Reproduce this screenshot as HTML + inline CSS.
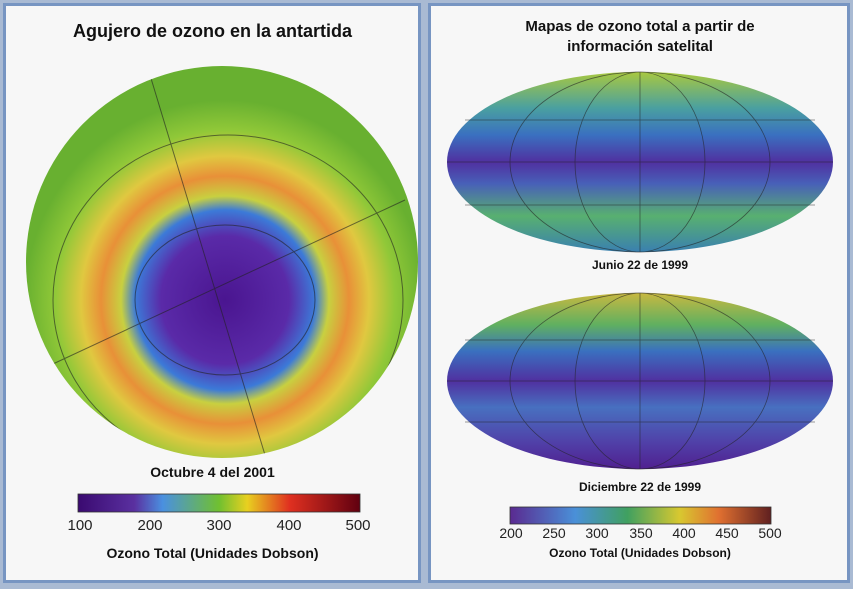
<!DOCTYPE html>
<html><head><meta charset="utf-8"><style>
body{margin:0;width:853px;height:589px;background:#a9bad3;overflow:hidden;font-family:"Liberation Sans",sans-serif}
.p{position:absolute;background:#f7f7f7;border:3px solid #7795c2;box-sizing:border-box}
.t{position:absolute;text-align:center;font-weight:bold;color:#111}
</style></head><body>
<div class="p" style="left:3px;top:3px;width:418px;height:580px"></div>
<div class="p" style="left:428px;top:3px;width:422px;height:580px"></div>
<div class="t" style="left:20px;width:385px;top:21px;font-size:18px">Agujero de ozono en la antartida</div>
<div class="t" style="left:440px;width:400px;top:17px;font-size:15px;line-height:20px">Mapas de ozono total a partir de<br>información satelital</div>
<div class="t" style="left:440px;width:400px;top:258px;font-size:12px">Junio 22 de 1999</div>
<div class="t" style="left:440px;width:400px;top:480px;font-size:12px">Diciembre 22 de 1999</div>
<div class="t" style="left:20px;width:385px;top:464px;font-size:14px">Octubre 4 del 2001</div>
<div class="t" style="left:20px;width:385px;top:545px;font-size:14px">Ozono Total (Unidades Dobson)</div>
<div class="t" style="left:440px;width:400px;top:546px;font-size:12px">Ozono Total (Unidades Dobson)</div>
<svg width="853" height="589" style="position:absolute;left:0;top:0">
<defs>
<radialGradient id="g1" cx="225" cy="300" r="200" gradientUnits="userSpaceOnUse">
<stop offset="0" stop-color="#4a1590"/><stop offset="0.32" stop-color="#5a2aa8"/><stop offset="0.45" stop-color="#3c7ad8"/>
<stop offset="0.52" stop-color="#c8d040"/><stop offset="0.62" stop-color="#e89038"/><stop offset="0.72" stop-color="#e0c840"/><stop offset="0.85" stop-color="#90c838"/><stop offset="1" stop-color="#68b030"/></radialGradient>
<linearGradient id="e1" x1="0" y1="0" x2="0" y2="1">
<stop offset="0" stop-color="#a8c840"/><stop offset="0.2" stop-color="#4aa0a0"/><stop offset="0.35" stop-color="#3a70c0"/><stop offset="0.5" stop-color="#5030a0"/><stop offset="0.62" stop-color="#4860b8"/><stop offset="0.8" stop-color="#58b070"/><stop offset="1" stop-color="#3a80b0"/></linearGradient>
<linearGradient id="e2" x1="0" y1="0" x2="0" y2="1">
<stop offset="0" stop-color="#c8b840"/><stop offset="0.18" stop-color="#60b060"/><stop offset="0.33" stop-color="#3a70c0"/><stop offset="0.5" stop-color="#5030a0"/><stop offset="0.65" stop-color="#4870c0"/><stop offset="0.85" stop-color="#5040a8"/><stop offset="1" stop-color="#502090"/></linearGradient>
<linearGradient id="c1"><stop offset="0" stop-color="#3a0a70"/><stop offset="0.2" stop-color="#5a30a0"/><stop offset="0.3" stop-color="#4a90e0"/><stop offset="0.5" stop-color="#70c030"/><stop offset="0.6" stop-color="#e8d020"/><stop offset="0.75" stop-color="#e03020"/><stop offset="1" stop-color="#600010"/></linearGradient>
<linearGradient id="c2"><stop offset="0" stop-color="#5a2a90"/><stop offset="0.25" stop-color="#4a90d8"/><stop offset="0.45" stop-color="#40a060"/><stop offset="0.65" stop-color="#d8c830"/><stop offset="0.8" stop-color="#e07030"/><stop offset="1" stop-color="#602020"/></linearGradient>
<clipPath id="cg"><circle cx="222" cy="262" r="196"/></clipPath>
</defs>
<circle cx="222" cy="262" r="196" fill="url(#g1)"/>
<g fill="none" stroke="#222" stroke-width="1" opacity="0.6" clip-path="url(#cg)">
<ellipse cx="225" cy="300" rx="90" ry="75"/><ellipse cx="228" cy="300" rx="175" ry="165"/>
<line x1="150" y1="75" x2="265" y2="455"/><line x1="40" y1="370" x2="405" y2="200"/></g>
<ellipse cx="640" cy="162" rx="193" ry="90" fill="url(#e1)"/>
<ellipse cx="640" cy="381" rx="193" ry="88" fill="url(#e2)"/>
<g fill="none" stroke="#222" stroke-width="0.8" opacity="0.6">
<ellipse cx="640" cy="162" rx="130" ry="90"/><ellipse cx="640" cy="162" rx="65" ry="90"/><line x1="640" y1="72" x2="640" y2="252"/><line x1="447" y1="162" x2="833" y2="162"/><line x1="465" y1="120" x2="815" y2="120"/><line x1="465" y1="205" x2="815" y2="205"/>
<ellipse cx="640" cy="381" rx="130" ry="88"/><ellipse cx="640" cy="381" rx="65" ry="88"/><line x1="640" y1="293" x2="640" y2="469"/><line x1="447" y1="381" x2="833" y2="381"/><line x1="465" y1="340" x2="815" y2="340"/><line x1="465" y1="422" x2="815" y2="422"/></g>
<rect x="78" y="494" width="282" height="18" fill="url(#c1)" stroke="#333" stroke-width="0.8"/>
<rect x="510" y="507" width="261" height="17" fill="url(#c2)" stroke="#333" stroke-width="0.8"/>
<g font-size="15" fill="#222" text-anchor="middle" font-family="Liberation Sans">
<text x="80" y="530">100</text><text x="150" y="530">200</text><text x="219" y="530">300</text><text x="289" y="530">400</text><text x="358" y="530">500</text></g>
<g font-size="14" fill="#222" text-anchor="middle" font-family="Liberation Sans">
<text x="511" y="538">200</text><text x="554" y="538">250</text><text x="597" y="538">300</text><text x="641" y="538">350</text><text x="684" y="538">400</text><text x="727" y="538">450</text><text x="770" y="538">500</text></g>
</svg>
</body></html>
